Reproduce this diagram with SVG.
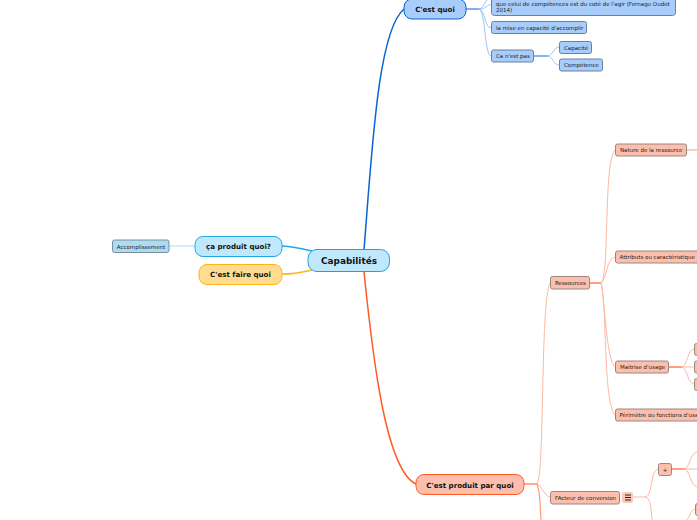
<svg xmlns="http://www.w3.org/2000/svg" width="697" height="520" viewBox="0 0 697 520">
<style>
text{font-family:"DejaVu Sans",sans-serif;fill:#111}
.c{fill:none;stroke-linecap:round}
.s{font-size:5.500px;fill:#222}
.m{font-size:7.100px;font-weight:700;text-anchor:middle}
.b{fill:#a8cdfb;stroke:#6b8099;stroke-width:1}
.r{fill:#fcbfad;stroke:#9a8880;stroke-width:1}
.bl{stroke:#8fbdf5;stroke-width:.9}
.bt{stroke:#5c9de8;stroke-width:1.4}
.rl{stroke:#fdb9a4;stroke-width:1}
.rt{stroke:#fd7f5c;stroke-width:1.5}
</style>
<g id="connectors">
<path class="c" stroke="#0a64d2" stroke-width="1.500" d="M364 250C372 150 378 30 404 9"/>
<path class="c" stroke="#ff5a26" stroke-width="1.500" d="M364 272C372 350 385 470 416 484"/>
<path class="c" stroke="#1fa9e3" stroke-width="1.500" d="M282 246C295 247 303 249 312 251"/>
<path class="c" stroke="#ffb31a" stroke-width="1.500" d="M282 274C295 274 303 272 312 270"/>
<path class="c" stroke="#a5dcf5" stroke-width="1" d="M169 246H195"/>
<path class="c" stroke="#0a64d2" stroke-width="1.200" d="M466 9H479"/>
<path class="c bl" d="M479 9C484 9 484 0 491 -3M479 9C485 9 485 7 491 4M479 9C486 10 484 28 491 28M479 9C486 10 484 56 491 56"/>
<path class="c bt" d="M534 56H548"/>
<path class="c bl" d="M548 56C553 56 553 47 559 47M548 56C553 56 553 65 559 65"/>
<path class="c" stroke="#ff5a26" stroke-width="1.200" d="M524 484H537"/>
<path class="c rl" d="M537 484C545 480 540 300 550 283M537 484C543 486 544 497 550 497"/>
<path class="c" stroke="#fd9a7d" stroke-width="1.200" d="M537 484C541 495 540 510 541 520"/>
<path class="c rt" d="M590 283H601"/>
<path class="c rl" d="M601 283C610 280 603 160 615 150M601 283C607 280 606 258 615 257M601 283C605 300 606 360 615 367M601 283C607 300 603 405 615 415"/>
<path class="c" stroke="#fd9a7d" stroke-width="1" d="M686 150H697"/>
<path class="c rt" d="M669 367H682"/>
<path class="c rl" d="M682 367C688 365 687 350 694 349M682 367H694M682 367C688 369 687 383 694 384"/>
<path class="c rl" stroke-width="2.500" d="M633 497H646"/>
<path class="c rl" d="M646 497C653 495 650 470 658 469M646 497C653 499 650 520 654 526"/>
<path class="c rt" d="M672 469H685"/>
<path class="c rl" d="M685 469C690 467 690 453 697 452M685 469H697M685 469C690 471 690 485 697 487"/>
<path class="c rl" d="M685 522C690 518 690 510 695 509"/>
</g>
<g id="n-root"><rect x="308" y="249.500" width="81.500" height="22" rx="9" fill="#bfe8fd" stroke="#2b9ed8"/><text x="349" y="264" text-anchor="middle" font-size="8.900" font-weight="700">Capabilités</text></g>
<g id="n-quoi"><rect x="404" y="-1" width="62" height="20" rx="8" fill="#a8cdfb" stroke="#0a64d2"/><text class="m" x="435" y="12">C'est quoi</text></g>
<g id="n-def"><rect x="491.500" y="-8" width="184" height="23.500" rx="3" class="b"/><text class="s" x="496" y="6">que celui de compétences est du coté de l'agir (Fernagu Oudet</text><text class="s" x="496" y="12">2014)</text></g>
<g id="n-miseen"><rect x="491.500" y="21.500" width="95" height="12" rx="2" class="b"/><text class="s" x="496" y="30">la mise en capacité d'accomplir</text></g>
<g id="n-pas"><rect x="491.500" y="50" width="42" height="12" rx="2" class="b"/><text class="s" x="496" y="58">Ca n'est pas</text></g>
<g id="n-capacite"><rect x="559.500" y="41.500" width="32" height="12" rx="2" class="b"/><text class="s" x="564" y="50">Capacité</text></g>
<g id="n-competence"><rect x="559.500" y="59" width="43" height="12" rx="2" class="b"/><text class="s" x="564" y="67">Compétence</text></g>
<g id="n-produit"><rect x="195" y="236.500" width="87" height="20" rx="8" fill="#bfe8fd" stroke="#1fa9e3"/><text class="m" x="238.500" y="249">ça produit quoi?</text></g>
<g id="n-accomp"><rect x="112.500" y="240" width="56.500" height="12.500" rx="2" fill="#aedbf0" stroke="#7890a0"/><text class="s" x="141" y="249" text-anchor="middle">Accomplissement</text></g>
<g id="n-faire"><rect x="199" y="264.500" width="83" height="20" rx="8" fill="#ffdc8f" stroke="#ffb31a"/><text class="m" x="240.500" y="277">C'est faire quoi</text></g>
<g id="n-parquoi"><rect x="416" y="474.500" width="108" height="20" rx="8" fill="#fcbfad" stroke="#ff5a26"/><text class="m" x="470" y="487.500">C'est produit par quoi</text></g>
<g id="n-ress"><rect x="550.500" y="276.500" width="39" height="12.500" rx="2" class="r"/><text class="s" x="555" y="285">Ressources</text></g>
<g id="n-nature"><rect x="615.500" y="144" width="71" height="12" rx="2" class="r"/><text class="s" x="620" y="152">Nature de la ressource</text></g>
<g id="n-attr"><rect x="615.500" y="251" width="90" height="12" rx="2" class="r"/><text class="s" x="619.500" y="259">Attributs ou caractéristique</text></g>
<g id="n-maitrise"><rect x="615.500" y="361" width="53" height="12" rx="2" class="r"/><text class="s" x="620" y="369">Maitrise d'usage</text></g>
<g id="n-m1"><rect x="694.500" y="343.500" width="12" height="12" rx="2" class="r"/></g>
<g id="n-m2"><rect x="694.500" y="361" width="12" height="12" rx="2" class="r"/></g>
<g id="n-m3"><rect x="694.500" y="378.500" width="12" height="12" rx="2" class="r"/></g>
<g id="n-perim"><rect x="615.500" y="409" width="100" height="12" rx="2" class="r"/><text class="s" x="619.500" y="417">Périmètre ou fonctions d'usage</text></g>
<g id="n-facteur"><rect x="550.500" y="491.500" width="69" height="12.500" rx="2" class="r"/><text class="s" x="555" y="500">FActeur de conversion</text></g>
<g id="n-menu"><rect x="622" y="492" width="11" height="11" rx="2" fill="#fdc8b8"/><path d="M625 495H631M625 497.500H631M625 500H631" stroke="#222" stroke-width="1" fill="none"/></g>
<g id="n-plus"><rect x="658.500" y="463.500" width="13" height="12" rx="2" class="r"/><text class="s" x="665" y="471.500" text-anchor="middle">+</text></g>
<g id="n-minus"><rect x="695.500" y="503.500" width="12" height="12" rx="2" class="r"/></g>
</svg>
